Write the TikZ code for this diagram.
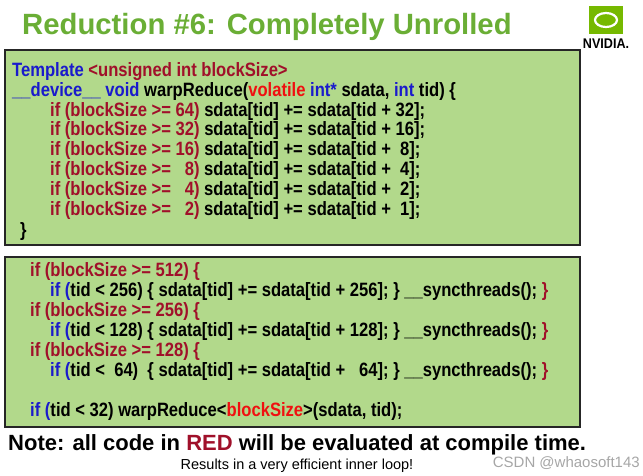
\documentclass[tikz,border=0pt]{standalone}
\usepackage{fontspec}
\setmainfont{Liberation Sans}
\definecolor{kblue}{HTML}{1A1ACC}
\definecolor{kred}{HTML}{A0102A}
\definecolor{vred}{HTML}{F01010}
\definecolor{tgreen}{HTML}{6AAE35}
\definecolor{boxg}{HTML}{B2D98B}
\definecolor{nvg}{HTML}{76B900}
\newcommand{\Bl}[1]{\textcolor{kblue}{#1}}
\newcommand{\Rd}[1]{\textcolor{kred}{#1}}
\newcommand{\Vr}[1]{\textcolor{vred}{#1}}
\begin{document}
\begin{tikzpicture}[x=1pt,y=-1pt,
  code/.style={anchor=west,inner sep=0pt,font=\fontsize{19.3}{20}\bfseries\addfontfeatures{FakeStretch=0.86}},
  box/.style={draw=black!85,line width=1.2pt,fill=boxg}]
\useasboundingbox (0,0) rectangle (643,475);
\node[anchor=west,inner sep=0pt,font=\fontsize{29.3}{32}\bfseries,text=tgreen] (title) at (22,27) {Reduction \#6: Completely Unrolled};
% logo
\node[fill=nvg,minimum width=34pt,minimum height=28pt,inner sep=0pt] (logo) at (606,20) {};
\draw[white,line width=2.2pt] (logo.center) ellipse (11pt and 7pt);
\node[inner sep=0pt,font=\fontsize{14}{15}\bfseries\addfontfeatures{FakeStretch=0.9}] (nv) at (606,44) {NVIDIA.};
\node[box,minimum width=575pt,minimum height=195pt,inner sep=0pt] (b1) at (292.5,147.5) {};
\node[box,minimum width=575pt,minimum height=170pt,inner sep=0pt] (b2) at (292.5,342) {};
\node[code] (l1) at (12,72) {\Bl{Template} \Rd{<unsigned int blockSize>}};
\node[code] (l2) at (12,92) {\Bl{\_\_device\_\_ void} warpReduce(\Vr{volatile} \Bl{int*} sdata, \Bl{int} tid) \{};
\node[code] (l3) at (50,112) {\Rd{if (blockSize >= 64)} sdata[tid] += sdata[tid + 32];};
\node[code] (l4) at (50,131) {\Rd{if (blockSize >= 32)} sdata[tid] += sdata[tid + 16];};
\node[code] (l5) at (50,151) {\Rd{if (blockSize >= 16)} sdata[tid] += sdata[tid +\ \ 8];};
\node[code] (l6) at (50,171) {\Rd{if (blockSize >=\ \ \ 8)} sdata[tid] += sdata[tid +\ \ 4];};
\node[code] (l7) at (50,191) {\Rd{if (blockSize >=\ \ \ 4)} sdata[tid] += sdata[tid +\ \ 2];};
\node[code] (l8) at (50,211) {\Rd{if (blockSize >=\ \ \ 2)} sdata[tid] += sdata[tid +\ \ 1];};
\node[code] (l9) at (20,232) {\}};
\node[code] (m1) at (30,272) {\Rd{if (blockSize >= 512) \{}};
\node[code] (m2) at (50,292) {\Bl{if (}tid < 256) \{ sdata[tid] += sdata[tid + 256]; \} \_\_syncthreads(); \Rd{\}}};
\node[code] (m3) at (30,312) {\Rd{if (blockSize >= 256) \{}};
\node[code] (m4) at (50,332) {\Bl{if (}tid < 128) \{ sdata[tid] += sdata[tid + 128]; \} \_\_syncthreads(); \Rd{\}}};
\node[code] (m5) at (30,352) {\Rd{if (blockSize >= 128) \{}};
\node[code] (m6) at (50,372) {\Bl{if (}tid <\ \ 64)\ \ \{ sdata[tid] += sdata[tid +\ \ \ 64]; \} \_\_syncthreads(); \Rd{\}}};
\node[code] (m7) at (30,412) {\Bl{if (}tid < 32) warpReduce<\Vr{blockSize}>(sdata, tid);};
\node[anchor=west,inner sep=0pt,font=\fontsize{22}{24}\bfseries] (note) at (8,445) {Note: all code in \textcolor{kred}{RED} will be evaluated at compile time.};
\node[inner sep=0pt,font=\fontsize{14.5}{16}\selectfont] (sub) at (297,466) {Results in a very efficient inner loop!};
\node[anchor=east,inner sep=0pt,font=\fontsize{15}{17}\selectfont,text=black!35] (wm) at (640,463) {CSDN @whaosoft143};
\end{tikzpicture}
\end{document}
